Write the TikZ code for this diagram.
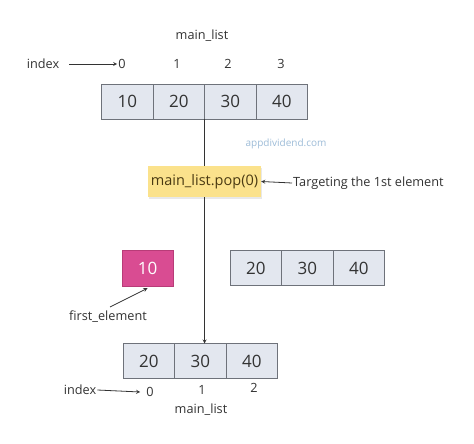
\documentclass[tikz,border=0pt]{standalone}
\usepackage{fontspec}
\setmainfont{Open Sans}
\usetikzlibrary{positioning,shadows}
\definecolor{cellfill}{HTML}{E3E7EF}
\definecolor{cellline}{HTML}{6E727A}
\definecolor{txtgray}{HTML}{333333}
\definecolor{popfill}{HTML}{FBE28C}
\definecolor{poptext}{HTML}{4A3A12}
\definecolor{pinkfill}{HTML}{D94C92}
\definecolor{pinkline}{HTML}{B83C78}
\definecolor{markblue}{HTML}{9DBCD8}
\tikzset{
  cell/.style={draw=cellline,fill=cellfill,minimum width=51.5pt,minimum height=35pt,
    inner sep=0pt,outer sep=0pt,text=txtgray,font=\fontsize{17}{19}\selectfont},
  lbl/.style={text=txtgray,inner sep=1pt,font=\fontsize{12.7}{15}\selectfont},
  arr/.style={->,draw=txtgray,thick}
}
\begin{document}
\begin{tikzpicture}[x=1pt,y=-1pt,>=stealth]
    \useasboundingbox[fill=white] (0,0) rectangle (474,444);
    % top list
    \node[lbl] (topname) at (202,36) {main\_list};
    \node[cell] (t0) at (127.25,101.5) {10};
    \node[cell,right=0pt of t0] (t1) {20};
    \node[cell,right=0pt of t1] (t2) {30};
    \node[cell,right=0pt of t2] (t3) {40};
    \node[lbl] (tindex) at (43,64) {index};
    \node[lbl] (ti0) at (122,64) {0};
    \node[lbl] (ti1) at (177,64) {1};
    \node[lbl] (ti2) at (228,64) {2};
    \node[lbl] (ti3) at (281,64) {3};
    \draw[arr] (tindex.east) ++(9,0) -- (ti0.west);
    % pop call
    \node[draw=none,fill=popfill,text=poptext,minimum width=113pt,minimum height=31pt,
      inner sep=0pt,font=\fontsize{14.5}{17}\selectfont,
      drop shadow={opacity=0.18,shadow xshift=1pt,shadow yshift=-1.5pt}] (pop) at (204.5,181.5) {main\_list.pop(0)};
    \node[lbl,anchor=west] (target) at (292,183) {Targeting the 1st element};
    \draw[arr] (target.west) -- (pop.east);
    \node[text=markblue,font=\fontsize{10}{12}\selectfont] (mark) at (286,144) {appdividend.com};
    % removed element
    \node[draw=pinkline,fill=pinkfill,text=white,minimum width=51pt,minimum height=36pt,
      inner sep=0pt,font=\fontsize{17}{19}\selectfont] (first) at (147.5,268) {10};
    \node[lbl] (firstname) at (108,317) {first\_element};
    \draw[arr] ([xshift=2pt,yshift=3pt]firstname.north) -- ([yshift=-2pt]first.south);
    % what is left
    \node[cell] (r0) at (255.75,268) {20};
    \node[cell,right=0pt of r0] (r1) {30};
    \node[cell,right=0pt of r1] (r2) {40};
    % bottom list
    \node[cell] (b0) at (148.75,361) {20};
    \node[cell,right=0pt of b0] (b1) {30};
    \node[cell,right=0pt of b1] (b2) {40};
    \node[lbl] (bindex) at (80,390) {index};
    \node[lbl] (bi0) at (150,392) {0};
    \node[lbl] (bi1) at (202,390) {1};
    \node[lbl] (bi2) at (254,388) {2};
    \node[lbl] (botname) at (201,410) {main\_list};
    \draw[arr] (bindex.east) -- ([xshift=-5pt]bi0.west);
    % flow line
    \draw[draw=txtgray,thick] (t1.south east) -- (pop.north);
    \draw[arr] (pop.south) -- (pop.south |- b1.north);
\end{tikzpicture}
\end{document}
